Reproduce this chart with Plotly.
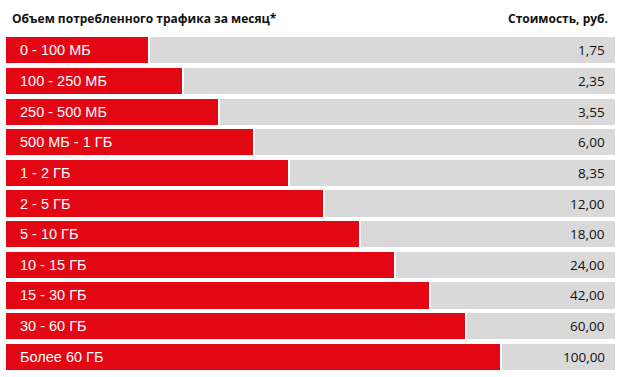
import plotly.graph_objects as go

categories = ["0 - 100 МБ", "100 - 250 МБ", "250 - 500 МБ", "500 МБ - 1 ГБ", "1 - 2 ГБ",
              "2 - 5 ГБ", "5 - 10 ГБ", "10 - 15 ГБ", "15 - 30 ГБ", "30 - 60 ГБ", "Более 60 ГБ"]
prices = [1.75, 2.35, 3.55, 6.00, 8.35, 12.00, 18.00, 24.00, 42.00, 60.00, 100.00]
# decorative fill level of each red bar, in % of the full grey track
fill_levels = [23.5, 29.2, 35.0, 40.7, 46.5, 52.2, 58.1, 63.9, 69.6, 75.4, 81.1]
track_total = 100

header_left = "Объем потребленного трафика за месяц*"
header_right = "Стоимость, руб."

RED = "#E30613"
GREY = "#D9D9D9"

def fmt(v):
    return f"{v:.2f}".replace(".", ",")

fig = go.Figure()
fig.add_trace(go.Bar(
    y=categories, x=fill_levels, orientation="h",
    marker=dict(color=RED, line=dict(color="white", width=2)),
    hoverinfo="skip", showlegend=False,
))
fig.add_trace(go.Bar(
    y=categories, x=[track_total - f for f in fill_levels], orientation="h",
    marker=dict(color=GREY, line=dict(color="white", width=2)),
    hoverinfo="skip", showlegend=False,
))

annotations = []
for c, p in zip(categories, prices):
    annotations.append(dict(x=0, y=c, xref="x", yref="y", text=c, showarrow=False,
                            xanchor="left", xshift=13,
                            font=dict(family="Liberation Sans, Arial", size=14.5, color="white")))
    annotations.append(dict(x=track_total, y=c, xref="x", yref="y", text=fmt(p), showarrow=False,
                            xanchor="right", xshift=-9,
                            font=dict(family="Open Sans", size=13.5, color="#111111")))
annotations.append(dict(x=0, y=1, xref="paper", yref="paper", text=f"<b>{header_left}</b>",
                        showarrow=False, xanchor="left", yanchor="bottom", xshift=5, yshift=6,
                        font=dict(family="Open Sans", size=12, color="#111111")))
annotations.append(dict(x=1, y=1, xref="paper", yref="paper", text=f"<b>{header_right}</b>",
                        showarrow=False, xanchor="right", yanchor="bottom", xshift=-6, yshift=6,
                        font=dict(family="Open Sans", size=12, color="#111111")))

fig.update_layout(
    width=620, height=377,
    margin=dict(l=5, r=4, t=35, b=5),
    barmode="stack", bargap=0.08,
    plot_bgcolor="white", paper_bgcolor="white",
    xaxis=dict(range=[0, track_total], visible=False, fixedrange=True),
    yaxis=dict(autorange="reversed", visible=False, fixedrange=True),
    annotations=annotations,
)

fig.write_html("out.html", config={"displayModeBar": False},
               post_script="document.body.style.margin='0';")
